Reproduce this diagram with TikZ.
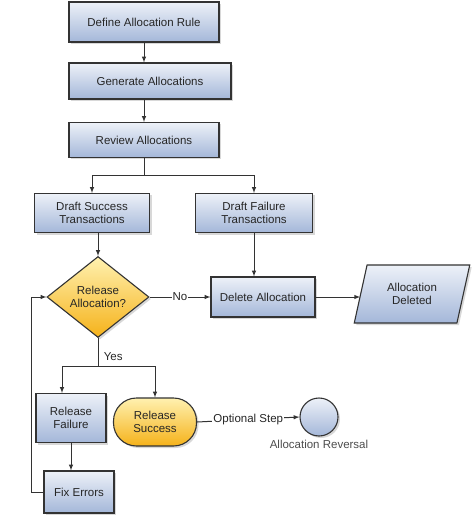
\documentclass[tikz,border=0pt]{standalone}
\usepackage{fontspec}
\setmainfont{Liberation Sans}
\usetikzlibrary{arrows, shapes.geometric, shadows, calc, positioning}
\definecolor{boxTop}{HTML}{EDF1F8}
\definecolor{boxBot}{HTML}{A4B7D9}
\definecolor{goldTop}{HTML}{FFF1B0}
\definecolor{goldBot}{HTML}{F5B21A}
\definecolor{edgeGray}{HTML}{333333}
\tikzset{
    stepBox/.style={rectangle, draw=edgeGray, line width=1.1pt, top color=boxTop, bottom color=boxBot, align=center, inner sep=2pt,
        drop shadow={shadow xshift=2pt, shadow yshift=-2pt, fill=black!30}},
    decideBox/.style={diamond, draw=edgeGray, line width=1.1pt, top color=goldTop, bottom color=goldBot, align=center, inner sep=0pt, aspect=1.26,
        drop shadow={shadow xshift=2pt, shadow yshift=-2pt, fill=black!30}},
    endBox/.style={rectangle, rounded corners=23pt, draw=edgeGray, line width=1.1pt, top color=goldTop, bottom color=goldBot, align=center,
        drop shadow={shadow xshift=2pt, shadow yshift=-2pt, fill=black!30}},
    dataBox/.style={trapezium, trapezium left angle=74, trapezium right angle=106, trapezium stretches=true, draw=edgeGray, line width=1.1pt,
        top color=boxTop, bottom color=boxBot, align=center, drop shadow={shadow xshift=2pt, shadow yshift=-2pt, fill=black!30}},
    eventNode/.style={circle, draw=edgeGray, line width=1.1pt, top color=boxTop, bottom color=boxBot, minimum size=38pt, inner sep=0pt,
        drop shadow={shadow xshift=2pt, shadow yshift=-2pt, fill=black!30}},
    flowEdge/.style={->, >=latex, line width=1pt, draw=edgeGray},
    flowLine/.style={line width=1pt, draw=edgeGray},
}
\newcommand{\drawLink}[4][flowEdge]{
    \draw[#1] (#2) -- node[fill=white, inner sep=1pt] {#4} (#3);
}
\begin{document}
\begin{tikzpicture}[x=1pt, y=-1pt, font=\fontsize{11.5}{13}\selectfont, text=black!85]
        \useasboundingbox (0,0) rectangle (474,518);

        \node[stepBox, minimum width=150pt, minimum height=40pt] (define) at (144,22) {Define Allocation Rule};
        \node[stepBox, minimum width=162pt, minimum height=36pt] (generate) at (150,81) {Generate Allocations};
        \node[stepBox, minimum width=150pt, minimum height=35pt] (review) at (144,140) {Review Allocations};
        \node[stepBox, minimum width=115pt, minimum height=39pt] (draftOk) at (92,213) {Draft Success\\Transactions};
        \node[stepBox, minimum width=117pt, minimum height=39pt] (draftFail) at (254,213) {Draft Failure\\Transactions};
        \node[decideBox, minimum width=102pt, minimum height=81pt] (release) at (98,297) {Release\\Allocation?};
        \node[stepBox, minimum width=104pt, minimum height=40pt] (delete) at (263,297) {Delete Allocation};
        \node[dataBox, minimum width=116pt, minimum height=58pt] (deleted) at (412,294) {Allocation\\Deleted};
        \node[stepBox, minimum width=70pt, minimum height=49pt] (relFail) at (71,418) {Release\\Failure};
        \node[endBox, minimum width=83pt, minimum height=48pt] (relOk) at (155,422) {Release\\Success};
        \node[eventNode, label={[text=black!70]below:Allocation Reversal}] (reversal) at (319,417) {};
        \node[stepBox, minimum width=70pt, minimum height=42pt] (fix) at (79,492) {Fix Errors};

        \coordinate (split) at (144,176);
        \coordinate (yesJoin) at (98,366);
        \coordinate (loopCorner) at (31,492);

        \draw[flowEdge] (define.south) -- (define.south |- generate.north);
        \draw[flowEdge] (define.south |- generate.south) -- (define.south |- review.north);
        \draw[flowLine] (review.south) -- (split);
        \draw[flowEdge] (split) -| (draftOk.north);
        \draw[flowEdge] (split) -| (draftFail.north);
        \draw[flowEdge] (release.north |- draftOk.south) -- (release.north);
        \draw[flowEdge] (draftFail.south) -- (draftFail.south |- delete.north);
        \drawLink{release.east}{delete.west}{No}
        \draw[flowEdge] (delete.east) -- (delete.east -| deleted.west);
        \draw[flowLine] (release.south) -- node[right=2pt, pos=0.65] {Yes} (yesJoin);
        \draw[flowEdge] (yesJoin) -| (62,0 |- relFail.north);
        \draw[flowEdge] (yesJoin) -| (relOk.north);
        \drawLink{relOk.east}{reversal.west}{Optional Step}
        \draw[flowEdge] (relFail.south) -- (relFail.south |- fix.north);
        \draw[flowEdge] (fix.west) -- (loopCorner) |- (release.west);

\end{tikzpicture}
\end{document}
